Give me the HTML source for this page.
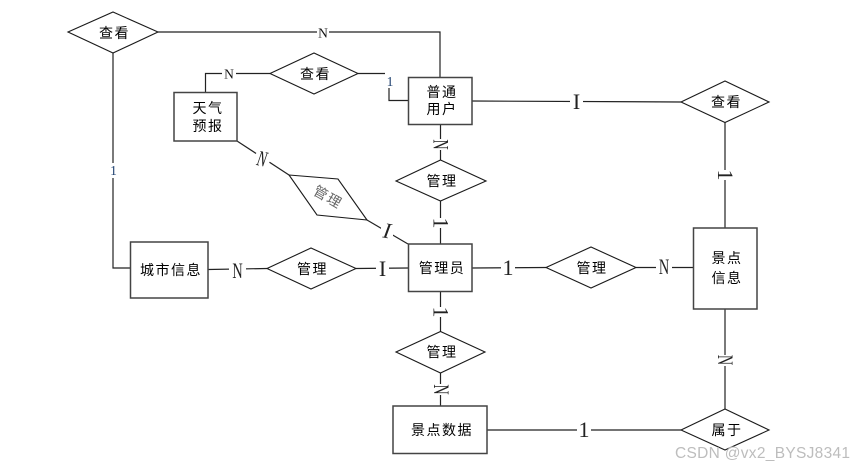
<!DOCTYPE html>
<html lang="zh">
<head>
<meta charset="utf-8">
<style>
html,body{margin:0;padding:0;background:#fff;width:853px;height:467px;overflow:hidden}
svg{display:block}
.s{fill:#fff;stroke:#1a1a1a;stroke-width:1.1}
.l{fill:none;stroke:#222;stroke-width:1.2}
.b{fill:#fff;stroke:#444;stroke-width:1.5}
.t{font-family:"Liberation Sans","Noto Sans CJK SC",sans-serif;font-size:14px;letter-spacing:1.5px;text-anchor:middle;fill:#000}
.n{font-family:"Liberation Serif",serif;font-size:22px;text-anchor:middle;fill:#222}
.m{font-family:"Liberation Serif",serif;font-size:13.500px;text-anchor:middle;fill:#111}
.w{fill:#fff}
</style>
</head>
<body>
<svg width="853" height="467" viewBox="0 0 853 467" xmlns="http://www.w3.org/2000/svg">
<!-- connectors -->
<polyline class="l" points="158,32 440,32 440,77"/>
<polyline class="l" points="113,53 113,268 130,268"/>
<polyline class="l" points="270,73.5 205.500,73.500 205.500,92.500"/>
<polyline class="l" points="358,73.500 385,73.500"/>
<polyline class="l" points="389,88 389,100.500 408,100.500"/>
<line class="l" x1="472" y1="101" x2="681" y2="102"/>
<line class="l" x1="440.500" y1="124" x2="440.500" y2="160"/>
<line class="l" x1="440.500" y1="201" x2="440.500" y2="244"/>
<line class="l" x1="237" y1="141" x2="289" y2="175"/>
<line class="l" x1="367" y1="220" x2="408" y2="244"/>
<line class="l" x1="725" y1="122" x2="725" y2="228"/>
<line class="l" x1="472" y1="268" x2="546" y2="267.500"/>
<line class="l" x1="636" y1="267.500" x2="693" y2="267.500"/>
<line class="l" x1="208" y1="269.500" x2="267" y2="268.500"/>
<line class="l" x1="356" y1="268.500" x2="408" y2="268"/>
<line class="l" x1="440.500" y1="291" x2="440.500" y2="332"/>
<line class="l" x1="440.500" y1="373" x2="440.500" y2="406"/>
<line class="l" x1="725" y1="309" x2="725" y2="409"/>
<line class="l" x1="487" y1="430" x2="681" y2="430"/>

<!-- diamonds -->
<polygon class="s" points="68,32 113,12 158,32 113,53"/>
<polygon class="s" points="270,73.500 314,53 358,73.500 314,94"/>
<polygon class="s" points="396,181 440.500,160 486,181 440.500,201"/>
<polygon class="s" points="681,102 725,81 769,102 725,122.500"/>
<polygon class="s" points="289,175 338,179 367,220 317,215"/>
<polygon class="s" points="267,268.500 311,248 356,268.500 311,289"/>
<polygon class="s" points="546,267.500 591,247 636,267.500 591,288"/>
<polygon class="s" points="396,352 440.500,331.500 485,352 440.500,373"/>
<polygon class="s" points="681,430 725,409 769,430 725,450"/>

<!-- rects -->
<rect class="b" x="174" y="92.500" width="63" height="48.500"/>
<rect class="b" x="408.500" y="77.500" width="63.500" height="47"/>
<rect class="b" x="408.500" y="244" width="63.500" height="47.500"/>
<rect class="b" x="130.500" y="242" width="77.500" height="56"/>
<rect class="b" x="693.500" y="228" width="63.500" height="81"/>
<rect class="b" x="393" y="406" width="94" height="47.500"/>

<!-- node labels -->
<text class="t" x="114.500" y="38">查看</text>
<text class="t" x="315.500" y="79">查看</text>
<text class="t" x="442" y="97">普通</text>
<text class="t" x="442" y="114">用户</text>
<text class="t" x="208" y="113">天气</text>
<text class="t" x="208" y="131">预报</text>
<text class="t" x="442" y="186">管理</text>
<text class="t" x="726.500" y="107">查看</text>
<text class="t" transform="translate(328,197) rotate(30)" x="0" y="5" style="fill:#666">管理</text>
<text class="t" x="171" y="275">城市信息</text>
<text class="t" x="312.500" y="274">管理</text>
<text class="t" x="442" y="273">管理员</text>
<text class="t" x="592" y="273">管理</text>
<text class="t" x="727" y="263">景点</text>
<text class="t" x="727" y="283">信息</text>
<text class="t" x="442" y="357">管理</text>
<text class="t" x="442" y="435">景点数据</text>
<text class="t" x="727" y="435">属于</text>

<!-- cardinality: small -->
<rect class="w" x="317" y="26" width="12" height="13"/>
<text class="m" x="323" y="37.500">N</text>
<rect class="w" x="222" y="68" width="14" height="12"/>
<text class="m" x="229" y="78.500">N</text>
<rect class="w" x="108" y="163" width="11" height="15"/>
<text class="m" x="113.500" y="175" style="fill:#1c3f6e">1</text>
<text class="m" x="390" y="86" style="fill:#1c3f6e">1</text>

<!-- cardinality: large stretched -->
<rect class="w" x="432" y="139" width="17" height="11"/>
<g transform="translate(440.500,144.500) rotate(90) scale(.65,1)"><text class="n" x="0" y="7">N</text></g>
<rect class="w" x="432" y="218" width="17" height="10"/>
<g transform="translate(440.500,223) rotate(90)"><text class="n" x="0" y="7">1</text></g>

<rect class="w" x="254" y="151" width="16" height="16" transform="rotate(33 262 159)"/>
<g transform="translate(262,159) rotate(12) scale(.65,1)"><text class="n" x="0" y="7" style="font-style:italic">N</text></g>
<rect class="w" x="381" y="224" width="12" height="15"/>
<g transform="translate(387,231) rotate(10)"><text class="n" x="0" y="7" style="font-style:italic">I</text></g>

<rect class="w" x="570" y="94" width="13" height="16"/>
<text class="n" x="576.500" y="109">I</text>
<rect class="w" x="716" y="170" width="18" height="10"/>
<g transform="translate(725,175) rotate(90)"><text class="n" x="0" y="7">1</text></g>

<rect class="w" x="229" y="262" width="17" height="17"/>
<g transform="translate(237.500,271) scale(.65,1)"><text class="n" x="0" y="7">N</text></g>
<rect class="w" x="376" y="261" width="13" height="16"/>
<text class="n" x="382.500" y="276">I</text>
<rect class="w" x="501" y="260" width="14" height="16"/>
<text class="n" x="508" y="275">1</text>
<rect class="w" x="656" y="259" width="16" height="16"/>
<g transform="translate(664,267) scale(.65,1)"><text class="n" x="0" y="7">N</text></g>

<rect class="w" x="432" y="307" width="17" height="10"/>
<g transform="translate(440.500,312) rotate(90)"><text class="n" x="0" y="7">1</text></g>
<rect class="w" x="432" y="384" width="17" height="11"/>
<g transform="translate(441,389.500) rotate(90) scale(.65,1)"><text class="n" x="0" y="7">N</text></g>
<rect class="w" x="716" y="355" width="18" height="11"/>
<g transform="translate(725,360) rotate(90) scale(.65,1)"><text class="n" x="0" y="7">N</text></g>
<rect class="w" x="577" y="421" width="14" height="18"/>
<text class="n" x="584" y="437">1</text>

<!-- watermark -->
<text x="675" y="458" style="font-family:'Liberation Sans',sans-serif;font-size:15.500px;letter-spacing:.3px;fill:#bdbdbd">CSDN @vx2_BYSJ8341</text>
</svg>
</body>
</html>
